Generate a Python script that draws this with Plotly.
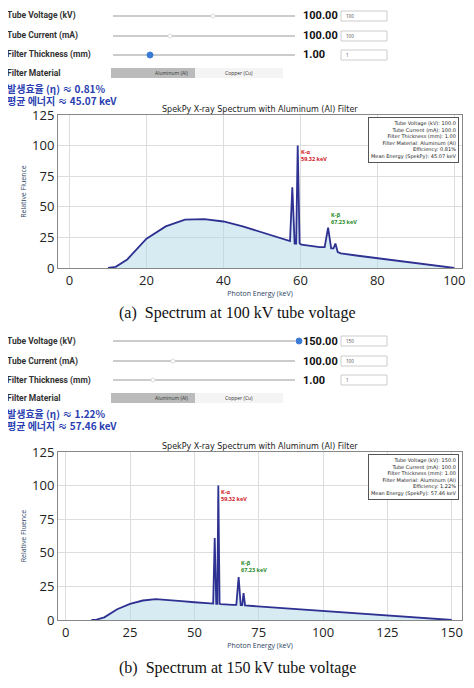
import plotly.graph_objects as go

# page body has an 8px margin, so the figure is drawn 8px smaller on each side
OFF = 8
W, H = 474 - 2 * OFF, 688 - 2 * OFF

# spectrum at 100 kV
e100 = [10, 12, 15, 18, 20, 25, 30, 35, 40, 45, 50, 55, 57.3, 57.9, 58.5, 58.9, 59.3, 59.8, 60.3, 65, 66.3, 67.2, 68.0, 68.6, 69.1, 69.7, 70.5, 75, 80, 85, 90, 95, 100]
f100 = [0, 1, 7, 17, 24, 34, 39.5, 40, 38, 34, 29, 24, 22, 66, 20, 20, 100, 20, 19, 17, 17, 33, 16, 16, 20, 13, 12, 10, 8, 6, 4, 2, 0]
# spectrum at 150 kV
e150 = [10, 12, 15, 18, 20, 25, 30, 35, 40, 45, 50, 55, 57.3, 57.9, 58.5, 58.9, 59.3, 59.8, 60.3, 65, 66.3, 67.2, 68.0, 68.6, 69.1, 69.7, 70.5, 80, 90, 100, 110, 120, 130, 140, 150]
f150 = [0, 0.3, 2, 6, 8, 12, 14.5, 15.5, 15, 14, 13.2, 12.5, 12.2, 61, 12, 12, 100, 12, 11.8, 11.3, 11.3, 32, 11, 11, 20, 10.8, 10.7, 9.5, 8, 6.8, 5.3, 4, 2.7, 1.3, 0]

panels = [
    dict(kv="100.00", kvbox="100", eff="0.81%", mean="45.07 keV", kv_txt="100.0", meanbox="45.07 keV",
         top=0, plot=(58, 462, 115, 268), xmax=102, dtick=20, e=e100, f=f100, knobs=(213, 170, 150), blue=2,
         caption="(a)  Spectrum at 100 kV tube voltage", cap_y=313),
    dict(kv="150.00", kvbox="150", eff="1.22%", mean="57.46 keV", kv_txt="150.0", meanbox="57.46 keV",
         top=325, plot=(58, 462, 452, 620), xmax=154, dtick=25, e=e150, f=f150, knobs=(299, 173, 153), blue=0,
         caption="(b)  Spectrum at 150 kV tube voltage", cap_y=668),
]

def px(x): return (x - OFF) / W
def py(y): return 1 - (y - OFF) / H

def note(x, y, text, **kw):
    d = dict(x=px(x), y=py(y), text=text, showarrow=False, xref="paper", yref="paper", yanchor="middle")
    d.update(kw)
    return d

fig = go.Figure()
shapes, annos = [], []
for i, p in enumerate(panels):
    xa = "xaxis" if i == 0 else "xaxis2"
    ya = "yaxis" if i == 0 else "yaxis2"
    xr = "x" if i == 0 else "x2"
    yr = "y" if i == 0 else "y2"
    x0, x1, y0, y1 = p["plot"]
    fig.add_trace(go.Scatter(x=p["e"], y=p["f"], mode="lines", fill="tozeroy",
                             fillcolor="rgba(173,216,230,0.5)", line=dict(color="#2e3192", width=1.8),
                             xaxis=xr, yaxis=yr, showlegend=False))
    fig.update_layout(**{
        xa: dict(domain=[px(x0), px(x1)], range=[-3, p["xmax"]], dtick=p["dtick"], anchor=yr,
                 showgrid=True, gridcolor="#ddd", tickfont=dict(size=13, color="#222"), automargin=False,
                 title=dict(text="Photon Energy (keV)", font=dict(size=7), standoff=2),
                 showline=True, linecolor="#888", mirror=True, zeroline=False, ticks=""),
        ya: dict(domain=[py(y1), py(y0)], range=[0, 125], dtick=25, anchor=xr, automargin=False,
                 showgrid=True, gridcolor="#ddd", tickfont=dict(size=13, color="#222"),
                 title=dict(text="Relative Fluence", font=dict(size=7), standoff=4),
                 showline=True, linecolor="#888", mirror=True, zeroline=False),
    })
    t = p["top"]
    rows = [("Tube Voltage (kV)", p["kv"], p["kvbox"], 16), ("Tube Current (mA)", "100.00", "100", 36),
            ("Filter Thickness (mm)", "1.00", "1", 55)]
    for j, (lab, val, box, ry) in enumerate(rows):
        y = t + ry
        annos.append(note(5, y, "<b>%s</b>" % lab, xanchor="left",
                          font=dict(size=8.5, color="#333", family="Roboto")))
        shapes.append(dict(type="line", x0=px(113), x1=px(295), y0=py(y), y1=py(y), xref="paper", yref="paper",
                           line=dict(color="#999", width=1)))
        kx = p["knobs"][j]
        blue = j == p["blue"]
        r = 3 if blue else 2
        shapes.append(dict(type="circle", x0=px(kx - r), x1=px(kx + r), y0=py(y - r), y1=py(y + r),
                           xref="paper", yref="paper", fillcolor="#3a7bd5" if blue else "white",
                           line=dict(color="#3a7bd5" if blue else "#ddd", width=1)))
        annos.append(note(301, y, "<b>%s</b>" % val, xanchor="left",
                          font=dict(size=11, color="#111", family="Roboto")))
        shapes.append(dict(type="rect", x0=px(341), x1=px(387), y0=py(y - 5), y1=py(y + 5), xref="paper",
                           yref="paper", line=dict(color="#ccc", width=1)))
        annos.append(note(344, y, box, xanchor="left", font=dict(size=4.5, color="#444")))
    y = t + 73
    annos.append(note(5, y, "<b>Filter Material</b>", xanchor="left",
                      font=dict(size=8.5, color="#333", family="Roboto")))
    shapes.append(dict(type="rect", x0=px(111), x1=px(195), y0=py(y - 5), y1=py(y + 5), xref="paper",
                       yref="paper", fillcolor="#bbb", line=dict(width=0)))
    shapes.append(dict(type="rect", x0=px(195), x1=px(283), y0=py(y - 5), y1=py(y + 5), xref="paper",
                       yref="paper", fillcolor="#f4f4f4", line=dict(width=0)))
    annos.append(note(153, y, "Aluminum (Al)", font=dict(size=5, color="#333")))
    annos.append(note(239, y, "Copper (Cu)", font=dict(size=5, color="#333")))
    annos.append(note(5, t + 88, "<b>발생효율 (η) ≈ %s</b>" % p["eff"], xanchor="left",
                      font=dict(size=10, color="#2a3eb1", family="Noto Sans CJK KR")))
    annos.append(note(5, t + 100.5, "<b>평균 에너지 ≈ %s</b>" % p["mean"], xanchor="left",
                      font=dict(size=10, color="#2a3eb1", family="Noto Sans CJK KR")))
    annos.append(note(260, y0 - 6, "SpekPy X-ray Spectrum with Aluminum (Al) Filter",
                      font=dict(size=8, color="#222", family="DejaVu Sans")))
    info = ("Tube Voltage (kV): %s<br>Tube Current (mA): 100.0<br>Filter Thickness (mm): 1.00<br>"
            "Filter Material: Aluminum (Al)<br>Efficiency: %s<br>Mean Energy (SpekPy): %s") % (
        p["kv_txt"], p["eff"], p["meanbox"])
    annos.append(note(459, y0 + 2, info, xanchor="right", yanchor="top",
                      align="right", font=dict(size=5, color="#222", family="DejaVu Sans"), bordercolor="#555",
                      borderwidth=1, bgcolor="white", borderpad=2))
    annos.append(dict(x=59.6, y=100, text="<b>K-α<br>59.32 keV</b>", showarrow=False, xanchor="left",
                      yanchor="top", align="left", font=dict(size=5.5, color="#d0121b"), xref=xr, yref=yr))
    annos.append(dict(x=67.5, y=33, text="<b>K-β<br>67.23 keV</b>", showarrow=False, xanchor="left",
                      yanchor="bottom", align="left", font=dict(size=5.5, color="#1e8a1e"), xref=xr, yref=yr))
    annos.append(note(237, p["cap_y"], p["caption"],
                      font=dict(size=16, color="#111", family="Liberation Serif")))

fig.update_layout(width=W, height=H, margin=dict(l=0, r=0, t=0, b=0, autoexpand=False), plot_bgcolor="white",
                  paper_bgcolor="white", shapes=shapes, annotations=annos)
fig.write_html("out.html")
